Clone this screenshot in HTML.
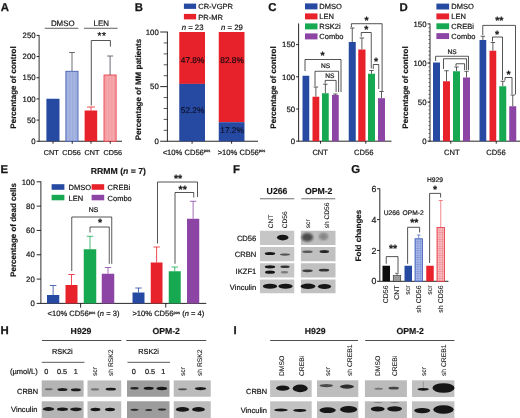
<!DOCTYPE html>
<html><head><meta charset="utf-8"><title>Figure</title>
<style>
html,body{margin:0;padding:0;background:#fff;}
body{width:520px;height:418px;overflow:hidden;}
svg{display:block;font-family:"Liberation Sans",Arial,sans-serif;text-rendering:geometricPrecision;}
</style></head><body>
<svg width="520" height="418" viewBox="0 0 520 418">
<defs>
<pattern id="vsb" width="1.5" height="4" patternUnits="userSpaceOnUse"><rect width="1.5" height="4" fill="#abb9e3"/><rect width="0.6" height="4" fill="#94a5d9"/></pattern>
<pattern id="vsr" width="1.5" height="4" patternUnits="userSpaceOnUse"><rect width="1.5" height="4" fill="#f7adb1"/><rect width="0.6" height="4" fill="#f19399"/></pattern>
<pattern id="chb" x="415" y="238.75" width="2.5" height="2.3" patternUnits="userSpaceOnUse"><rect width="2.5" height="2.3" fill="#acbaea"/><rect width="0.8" height="2.3" fill="#8399d8"/><rect width="2.5" height="0.7" fill="#8399d8"/></pattern>
<pattern id="chr" x="437" y="227.5" width="2.5" height="2.3" patternUnits="userSpaceOnUse"><rect width="2.5" height="2.3" fill="#f9c3c6"/><rect width="0.8" height="2.3" fill="#f1929a"/><rect width="2.5" height="0.7" fill="#f1929a"/></pattern>
<filter id="soft" x="0" y="0" width="520" height="418" filterUnits="userSpaceOnUse"><feGaussianBlur stdDeviation="0.35"/></filter>
<filter id="b0" x="-30%" y="-80%" width="160%" height="260%"><feGaussianBlur stdDeviation="0.48"/></filter>
<filter id="b1" x="-30%" y="-80%" width="160%" height="260%"><feGaussianBlur stdDeviation="0.62"/></filter>
<filter id="b2" x="-40%" y="-80%" width="180%" height="260%"><feGaussianBlur stdDeviation="1.3"/></filter>
</defs>
<rect width="520" height="418" fill="#fff"/>
<g filter="url(#soft)">
<text x="0.80" y="11.00" font-size="11.4" font-weight="bold" fill="#161616" stroke="#161616" stroke-width="0.25">A</text>
<text x="62.75" y="25.50" font-size="7.9" text-anchor="middle" fill="#161616" stroke="#161616" stroke-width="0.2">DMSO</text>
<text x="101.30" y="25.50" font-size="7.9" text-anchor="middle" fill="#161616" stroke="#161616" stroke-width="0.2">LEN</text>
<line x1="44.80" y1="28.30" x2="78.40" y2="28.30" stroke="#222" stroke-width="0.7"/>
<line x1="84.00" y1="28.30" x2="117.50" y2="28.30" stroke="#222" stroke-width="0.7"/>
<line x1="39.10" y1="35.05" x2="39.10" y2="141.60" stroke="#141414" stroke-width="0.9"/>
<line x1="36.60" y1="141.25" x2="39.10" y2="141.25" stroke="#141414" stroke-width="0.9"/>
<text x="35.60" y="143.96" font-size="7.8" text-anchor="end" fill="#161616" stroke="#161616" stroke-width="0.2">0</text>
<line x1="36.60" y1="120.08" x2="39.10" y2="120.08" stroke="#141414" stroke-width="0.9"/>
<text x="35.60" y="122.79" font-size="7.8" text-anchor="end" fill="#161616" stroke="#161616" stroke-width="0.2">50</text>
<line x1="36.60" y1="98.91" x2="39.10" y2="98.91" stroke="#141414" stroke-width="0.9"/>
<text x="35.60" y="101.62" font-size="7.8" text-anchor="end" fill="#161616" stroke="#161616" stroke-width="0.2">100</text>
<line x1="36.60" y1="77.74" x2="39.10" y2="77.74" stroke="#141414" stroke-width="0.9"/>
<text x="35.60" y="80.45" font-size="7.8" text-anchor="end" fill="#161616" stroke="#161616" stroke-width="0.2">150</text>
<line x1="36.60" y1="56.57" x2="39.10" y2="56.57" stroke="#141414" stroke-width="0.9"/>
<text x="35.60" y="59.28" font-size="7.8" text-anchor="end" fill="#161616" stroke="#161616" stroke-width="0.2">200</text>
<line x1="36.60" y1="35.40" x2="39.10" y2="35.40" stroke="#141414" stroke-width="0.9"/>
<text x="35.60" y="38.11" font-size="7.8" text-anchor="end" fill="#161616" stroke="#161616" stroke-width="0.2">250</text>
<line x1="39.10" y1="141.25" x2="122.00" y2="141.25" stroke="#141414" stroke-width="0.9"/>
<text transform="translate(16.40 87.50) rotate(-90)" font-size="8" text-anchor="middle" font-weight="bold" fill="#161616" stroke="#161616" stroke-width="0.15">Percentage of control</text>
<rect x="46.40" y="98.75" width="13.10" height="42.50" fill="#284aa1"/>
<rect x="65.90" y="71.30" width="12.10" height="69.95" fill="url(#vsb)" stroke="#4561b4" stroke-width="0.9"/>
<rect x="84.60" y="110.50" width="12.60" height="30.75" fill="#e8212b"/>
<rect x="104.00" y="75.00" width="12.10" height="66.25" fill="url(#vsr)" stroke="#e8434c" stroke-width="0.9"/>
<line x1="72.00" y1="52.50" x2="72.00" y2="71.00" stroke="#4a4a50" stroke-width="0.8"/>
<line x1="69.00" y1="52.50" x2="75.00" y2="52.50" stroke="#4a4a50" stroke-width="0.8"/>
<line x1="91.00" y1="107.00" x2="91.00" y2="110.50" stroke="#e8212b" stroke-width="0.8"/>
<line x1="87.00" y1="107.00" x2="95.00" y2="107.00" stroke="#e8212b" stroke-width="0.8"/>
<line x1="110.10" y1="56.00" x2="110.10" y2="75.00" stroke="#4a4a50" stroke-width="0.8"/>
<line x1="107.10" y1="56.00" x2="113.10" y2="56.00" stroke="#4a4a50" stroke-width="0.8"/>
<line x1="53.00" y1="141.25" x2="53.00" y2="143.75" stroke="#141414" stroke-width="0.9"/>
<line x1="72.25" y1="141.25" x2="72.25" y2="143.75" stroke="#141414" stroke-width="0.9"/>
<line x1="91.00" y1="141.25" x2="91.00" y2="143.75" stroke="#141414" stroke-width="0.9"/>
<line x1="110.25" y1="141.25" x2="110.25" y2="143.75" stroke="#141414" stroke-width="0.9"/>
<text x="51.25" y="154.60" font-size="7.2" text-anchor="middle" fill="#161616" stroke="#161616" stroke-width="0.2">CNT</text>
<text x="71.50" y="154.60" font-size="7.2" text-anchor="middle" fill="#161616" stroke="#161616" stroke-width="0.2">CD56</text>
<text x="91.90" y="154.60" font-size="7.2" text-anchor="middle" fill="#161616" stroke="#161616" stroke-width="0.2">CNT</text>
<text x="112.75" y="154.60" font-size="7.2" text-anchor="middle" fill="#161616" stroke="#161616" stroke-width="0.2">CD56</text>
<polyline points="91.30,105.50 91.30,40.50 110.40,40.50 110.40,46.60" fill="none" stroke="#1e1e1e" stroke-width="0.75"/>
<text x="102.00" y="38.90" font-size="10" text-anchor="middle" fill="#161616" stroke="#161616" stroke-width="0.3" letter-spacing="0.5">**</text>
<text x="134.70" y="11.00" font-size="11.4" font-weight="bold" fill="#161616" stroke="#161616" stroke-width="0.25">B</text>
<rect x="183.90" y="3.60" width="12.20" height="5.30" fill="#284aa1"/>
<rect x="183.90" y="13.90" width="12.20" height="5.50" fill="#e8212b"/>
<text x="198.20" y="9.20" font-size="7.55" fill="#161616" stroke="#161616" stroke-width="0.2">CR-VGPR</text>
<text x="198.20" y="19.50" font-size="7.55" fill="#161616" stroke="#161616" stroke-width="0.2">PR-MR</text>
<text x="192.60" y="29.80" font-size="7.8" text-anchor="middle" fill="#161616" stroke="#161616" stroke-width="0.2"><tspan font-style="italic">n</tspan> = 23</text>
<text x="231.90" y="29.80" font-size="7.8" text-anchor="middle" fill="#161616" stroke="#161616" stroke-width="0.2"><tspan font-style="italic">n</tspan> = 29</text>
<line x1="167.40" y1="31.65" x2="167.40" y2="141.60" stroke="#141414" stroke-width="0.9"/>
<line x1="160.20" y1="141.25" x2="167.40" y2="141.25" stroke="#141414" stroke-width="0.9"/>
<text x="158.80" y="143.96" font-size="7.8" text-anchor="end" fill="#161616" stroke="#161616" stroke-width="0.2">0</text>
<line x1="163.70" y1="130.32" x2="167.40" y2="130.32" stroke="#141414" stroke-width="0.7"/>
<line x1="163.70" y1="119.40" x2="167.40" y2="119.40" stroke="#141414" stroke-width="0.7"/>
<line x1="163.70" y1="108.47" x2="167.40" y2="108.47" stroke="#141414" stroke-width="0.7"/>
<line x1="163.70" y1="97.55" x2="167.40" y2="97.55" stroke="#141414" stroke-width="0.7"/>
<line x1="160.20" y1="86.62" x2="167.40" y2="86.62" stroke="#141414" stroke-width="0.9"/>
<text x="158.80" y="89.33" font-size="7.8" text-anchor="end" fill="#161616" stroke="#161616" stroke-width="0.2">50</text>
<line x1="163.70" y1="75.70" x2="167.40" y2="75.70" stroke="#141414" stroke-width="0.7"/>
<line x1="163.70" y1="64.77" x2="167.40" y2="64.77" stroke="#141414" stroke-width="0.7"/>
<line x1="163.70" y1="53.85" x2="167.40" y2="53.85" stroke="#141414" stroke-width="0.7"/>
<line x1="163.70" y1="42.92" x2="167.40" y2="42.92" stroke="#141414" stroke-width="0.7"/>
<line x1="160.20" y1="32.00" x2="167.40" y2="32.00" stroke="#141414" stroke-width="0.9"/>
<text x="158.80" y="34.71" font-size="7.8" text-anchor="end" fill="#161616" stroke="#161616" stroke-width="0.2">100</text>
<line x1="167.40" y1="141.25" x2="258.00" y2="141.25" stroke="#141414" stroke-width="0.9"/>
<rect x="179.25" y="32.00" width="25.75" height="51.90" fill="#e8212b"/>
<rect x="179.25" y="83.90" width="25.75" height="57.35" fill="#284aa1"/>
<rect x="218.75" y="32.00" width="25.75" height="90.20" fill="#e8212b"/>
<rect x="218.75" y="122.20" width="25.75" height="19.05" fill="#284aa1"/>
<line x1="192.10" y1="141.25" x2="192.10" y2="143.75" stroke="#141414" stroke-width="0.9"/>
<line x1="231.60" y1="141.25" x2="231.60" y2="143.75" stroke="#141414" stroke-width="0.9"/>
<text x="192.60" y="63.10" font-size="8.3" text-anchor="middle" fill="#1a0c10" stroke="#1a0c10" stroke-width="0.2">47.8%</text>
<text x="232.10" y="63.10" font-size="8.3" text-anchor="middle" fill="#1a0c10" stroke="#1a0c10" stroke-width="0.2">82.8%</text>
<text x="192.60" y="113.10" font-size="8.3" text-anchor="middle" fill="#0c1230" stroke="#0c1230" stroke-width="0.2">52.2%</text>
<text x="232.10" y="133.10" font-size="8.3" text-anchor="middle" fill="#0c1230" stroke="#0c1230" stroke-width="0.2">17.2%</text>
<text x="162.70" y="154.60" font-size="7.6" fill="#161616" stroke="#161616" stroke-width="0.2">&lt;10% CD56<tspan font-size="4" dy="-2.4">pos</tspan></text>
<text x="217.70" y="154.60" font-size="7.6" fill="#161616" stroke="#161616" stroke-width="0.2">&gt;10% CD56<tspan font-size="4" dy="-2.4">pos</tspan></text>
<text transform="translate(141.00 89.50) rotate(-90)" font-size="8" text-anchor="middle" font-weight="bold" fill="#161616" stroke="#161616" stroke-width="0.15">Percentage of MM patients</text>
<text x="268.20" y="11.00" font-size="11.4" font-weight="bold" fill="#161616" stroke="#161616" stroke-width="0.25">C</text>
<rect x="305.00" y="3.40" width="12.50" height="6.00" fill="#284aa1"/>
<text x="319.30" y="9.20" font-size="7.5" fill="#161616" stroke="#161616" stroke-width="0.2">DMSO</text>
<rect x="305.00" y="13.40" width="12.50" height="6.00" fill="#e8212b"/>
<text x="319.30" y="19.20" font-size="7.5" fill="#161616" stroke="#161616" stroke-width="0.2">LEN</text>
<rect x="305.00" y="23.40" width="12.50" height="6.00" fill="#19a951"/>
<text x="319.30" y="29.20" font-size="7.5" fill="#161616" stroke="#161616" stroke-width="0.2">RSK2i</text>
<rect x="305.00" y="33.40" width="12.50" height="6.00" fill="#8c44a4"/>
<text x="319.30" y="39.20" font-size="7.5" fill="#161616" stroke="#161616" stroke-width="0.2">Combo</text>
<line x1="298.60" y1="23.40" x2="298.60" y2="141.55" stroke="#141414" stroke-width="0.9"/>
<line x1="296.10" y1="141.20" x2="298.60" y2="141.20" stroke="#141414" stroke-width="0.9"/>
<text x="295.10" y="143.91" font-size="7.8" text-anchor="end" fill="#161616" stroke="#161616" stroke-width="0.2">0</text>
<line x1="296.10" y1="109.00" x2="298.60" y2="109.00" stroke="#141414" stroke-width="0.9"/>
<text x="295.10" y="111.71" font-size="7.8" text-anchor="end" fill="#161616" stroke="#161616" stroke-width="0.2">50</text>
<line x1="296.10" y1="76.80" x2="298.60" y2="76.80" stroke="#141414" stroke-width="0.9"/>
<text x="295.10" y="79.51" font-size="7.8" text-anchor="end" fill="#161616" stroke="#161616" stroke-width="0.2">100</text>
<line x1="296.10" y1="44.60" x2="298.60" y2="44.60" stroke="#141414" stroke-width="0.9"/>
<text x="295.10" y="47.31" font-size="7.8" text-anchor="end" fill="#161616" stroke="#161616" stroke-width="0.2">150</text>
<line x1="298.60" y1="141.20" x2="391.50" y2="141.20" stroke="#141414" stroke-width="0.9"/>
<text transform="translate(276.20 87.50) rotate(-90)" font-size="8" text-anchor="middle" font-weight="bold" fill="#161616" stroke="#161616" stroke-width="0.15">Percentage of control</text>
<rect x="302.50" y="75.75" width="6.75" height="65.45" fill="#284aa1"/>
<line x1="315.88" y1="87.00" x2="315.88" y2="96.75" stroke="#333" stroke-width="0.8"/>
<line x1="313.68" y1="87.00" x2="318.07" y2="87.00" stroke="#333" stroke-width="0.8"/>
<rect x="312.50" y="96.75" width="6.75" height="44.45" fill="#e8212b"/>
<line x1="325.38" y1="84.25" x2="325.38" y2="93.25" stroke="#333" stroke-width="0.8"/>
<line x1="323.18" y1="84.25" x2="327.57" y2="84.25" stroke="#333" stroke-width="0.8"/>
<rect x="322.00" y="93.25" width="6.75" height="47.95" fill="#19a951"/>
<line x1="335.38" y1="94.00" x2="335.38" y2="95.00" stroke="#333" stroke-width="0.8"/>
<line x1="333.18" y1="94.00" x2="337.57" y2="94.00" stroke="#333" stroke-width="0.8"/>
<rect x="332.00" y="95.00" width="6.75" height="46.20" fill="#8c44a4"/>
<line x1="352.25" y1="28.00" x2="352.25" y2="42.00" stroke="#333" stroke-width="0.8"/>
<line x1="350.05" y1="28.00" x2="354.45" y2="28.00" stroke="#333" stroke-width="0.8"/>
<rect x="348.75" y="42.00" width="7.00" height="99.20" fill="#284aa1"/>
<line x1="361.88" y1="38.00" x2="361.88" y2="49.50" stroke="#333" stroke-width="0.8"/>
<line x1="359.68" y1="38.00" x2="364.07" y2="38.00" stroke="#333" stroke-width="0.8"/>
<rect x="358.25" y="49.50" width="7.25" height="91.70" fill="#e8212b"/>
<line x1="371.50" y1="70.50" x2="371.50" y2="73.75" stroke="#333" stroke-width="0.8"/>
<line x1="369.30" y1="70.50" x2="373.70" y2="70.50" stroke="#333" stroke-width="0.8"/>
<rect x="368.00" y="73.75" width="7.00" height="67.45" fill="#19a951"/>
<line x1="381.50" y1="91.50" x2="381.50" y2="98.20" stroke="#333" stroke-width="0.8"/>
<line x1="379.30" y1="91.50" x2="383.70" y2="91.50" stroke="#333" stroke-width="0.8"/>
<rect x="378.00" y="98.20" width="7.00" height="43.00" fill="#8c44a4"/>
<line x1="320.50" y1="141.20" x2="320.50" y2="143.70" stroke="#141414" stroke-width="0.9"/>
<line x1="365.75" y1="141.20" x2="365.75" y2="143.70" stroke="#141414" stroke-width="0.9"/>
<text x="320.20" y="154.70" font-size="7.6" text-anchor="middle" fill="#161616" stroke="#161616" stroke-width="0.2">CNT</text>
<text x="363.70" y="154.70" font-size="7.6" text-anchor="middle" fill="#161616" stroke="#161616" stroke-width="0.2">CD56</text>
<polyline points="305.00,71.00 305.00,59.50 341.00,59.50 341.00,92.00" fill="none" stroke="#1e1e1e" stroke-width="0.75"/>
<text x="322.50" y="58.54" font-size="10.5" text-anchor="middle" font-weight="bold" fill="#161616" stroke="#161616" stroke-width="0.2">*</text>
<polyline points="315.00,86.00 315.00,71.25 338.60,71.25 338.60,92.00" fill="none" stroke="#1e1e1e" stroke-width="0.75"/>
<text x="325.50" y="67.90" font-size="6.6" text-anchor="middle" fill="#161616" stroke="#161616" stroke-width="0.2">NS</text>
<polyline points="325.20,83.50 325.20,80.40 336.10,80.40 336.10,92.00" fill="none" stroke="#1e1e1e" stroke-width="0.75"/>
<text x="329.80" y="77.60" font-size="6.6" text-anchor="middle" fill="#161616" stroke="#161616" stroke-width="0.2">NS</text>
<polyline points="351.40,27.00 351.40,23.70 382.10,23.70 382.10,91.00" fill="none" stroke="#1e1e1e" stroke-width="0.75"/>
<text x="366.50" y="23.54" font-size="10.5" text-anchor="middle" font-weight="bold" fill="#161616" stroke="#161616" stroke-width="0.2">*</text>
<polyline points="361.25,36.50 361.25,32.50 371.25,32.50 371.25,68.50" fill="none" stroke="#1e1e1e" stroke-width="0.75"/>
<text x="366.30" y="32.54" font-size="10.5" text-anchor="middle" font-weight="bold" fill="#161616" stroke="#161616" stroke-width="0.2">*</text>
<polyline points="373.25,69.00 373.25,64.50 378.75,64.50 378.75,89.00" fill="none" stroke="#1e1e1e" stroke-width="0.75"/>
<text x="376.00" y="64.54" font-size="10.5" text-anchor="middle" font-weight="bold" fill="#161616" stroke="#161616" stroke-width="0.2">*</text>
<text x="399.40" y="11.00" font-size="11.4" font-weight="bold" fill="#161616" stroke="#161616" stroke-width="0.25">D</text>
<rect x="436.40" y="3.60" width="12.70" height="5.90" fill="#284aa1"/>
<text x="451.30" y="9.20" font-size="7.5" fill="#161616" stroke="#161616" stroke-width="0.2">DMSO</text>
<rect x="436.40" y="13.45" width="12.70" height="5.90" fill="#e8212b"/>
<text x="451.30" y="19.20" font-size="7.5" fill="#161616" stroke="#161616" stroke-width="0.2">LEN</text>
<rect x="436.40" y="23.30" width="12.70" height="5.90" fill="#19a951"/>
<text x="451.30" y="29.20" font-size="7.5" fill="#161616" stroke="#161616" stroke-width="0.2">CREBi</text>
<rect x="436.40" y="33.15" width="12.70" height="5.90" fill="#8c44a4"/>
<text x="451.30" y="39.20" font-size="7.5" fill="#161616" stroke="#161616" stroke-width="0.2">Combo</text>
<line x1="430.00" y1="23.55" x2="430.00" y2="141.55" stroke="#141414" stroke-width="0.9"/>
<line x1="427.50" y1="141.20" x2="430.00" y2="141.20" stroke="#141414" stroke-width="0.9"/>
<text x="426.50" y="143.91" font-size="7.8" text-anchor="end" fill="#161616" stroke="#161616" stroke-width="0.2">0</text>
<line x1="427.50" y1="102.10" x2="430.00" y2="102.10" stroke="#141414" stroke-width="0.9"/>
<text x="426.50" y="104.81" font-size="7.8" text-anchor="end" fill="#161616" stroke="#161616" stroke-width="0.2">50</text>
<line x1="427.50" y1="63.00" x2="430.00" y2="63.00" stroke="#141414" stroke-width="0.9"/>
<text x="426.50" y="65.71" font-size="7.8" text-anchor="end" fill="#161616" stroke="#161616" stroke-width="0.2">100</text>
<line x1="427.50" y1="23.90" x2="430.00" y2="23.90" stroke="#141414" stroke-width="0.9"/>
<text x="426.50" y="26.61" font-size="7.8" text-anchor="end" fill="#161616" stroke="#161616" stroke-width="0.2">150</text>
<line x1="428.40" y1="141.20" x2="430.00" y2="141.20" stroke="#141414" stroke-width="0.5"/>
<line x1="428.40" y1="137.29" x2="430.00" y2="137.29" stroke="#141414" stroke-width="0.5"/>
<line x1="428.40" y1="133.38" x2="430.00" y2="133.38" stroke="#141414" stroke-width="0.5"/>
<line x1="428.40" y1="129.47" x2="430.00" y2="129.47" stroke="#141414" stroke-width="0.5"/>
<line x1="428.40" y1="125.56" x2="430.00" y2="125.56" stroke="#141414" stroke-width="0.5"/>
<line x1="428.40" y1="121.65" x2="430.00" y2="121.65" stroke="#141414" stroke-width="0.5"/>
<line x1="428.40" y1="117.74" x2="430.00" y2="117.74" stroke="#141414" stroke-width="0.5"/>
<line x1="428.40" y1="113.83" x2="430.00" y2="113.83" stroke="#141414" stroke-width="0.5"/>
<line x1="428.40" y1="109.92" x2="430.00" y2="109.92" stroke="#141414" stroke-width="0.5"/>
<line x1="428.40" y1="106.01" x2="430.00" y2="106.01" stroke="#141414" stroke-width="0.5"/>
<line x1="428.40" y1="102.10" x2="430.00" y2="102.10" stroke="#141414" stroke-width="0.5"/>
<line x1="428.40" y1="98.19" x2="430.00" y2="98.19" stroke="#141414" stroke-width="0.5"/>
<line x1="428.40" y1="94.28" x2="430.00" y2="94.28" stroke="#141414" stroke-width="0.5"/>
<line x1="428.40" y1="90.37" x2="430.00" y2="90.37" stroke="#141414" stroke-width="0.5"/>
<line x1="428.40" y1="86.46" x2="430.00" y2="86.46" stroke="#141414" stroke-width="0.5"/>
<line x1="428.40" y1="82.55" x2="430.00" y2="82.55" stroke="#141414" stroke-width="0.5"/>
<line x1="428.40" y1="78.64" x2="430.00" y2="78.64" stroke="#141414" stroke-width="0.5"/>
<line x1="428.40" y1="74.73" x2="430.00" y2="74.73" stroke="#141414" stroke-width="0.5"/>
<line x1="428.40" y1="70.82" x2="430.00" y2="70.82" stroke="#141414" stroke-width="0.5"/>
<line x1="428.40" y1="66.91" x2="430.00" y2="66.91" stroke="#141414" stroke-width="0.5"/>
<line x1="428.40" y1="63.00" x2="430.00" y2="63.00" stroke="#141414" stroke-width="0.5"/>
<line x1="428.40" y1="59.09" x2="430.00" y2="59.09" stroke="#141414" stroke-width="0.5"/>
<line x1="428.40" y1="55.18" x2="430.00" y2="55.18" stroke="#141414" stroke-width="0.5"/>
<line x1="428.40" y1="51.27" x2="430.00" y2="51.27" stroke="#141414" stroke-width="0.5"/>
<line x1="428.40" y1="47.36" x2="430.00" y2="47.36" stroke="#141414" stroke-width="0.5"/>
<line x1="428.40" y1="43.45" x2="430.00" y2="43.45" stroke="#141414" stroke-width="0.5"/>
<line x1="428.40" y1="39.54" x2="430.00" y2="39.54" stroke="#141414" stroke-width="0.5"/>
<line x1="428.40" y1="35.63" x2="430.00" y2="35.63" stroke="#141414" stroke-width="0.5"/>
<line x1="428.40" y1="31.72" x2="430.00" y2="31.72" stroke="#141414" stroke-width="0.5"/>
<line x1="428.40" y1="27.81" x2="430.00" y2="27.81" stroke="#141414" stroke-width="0.5"/>
<line x1="430.00" y1="141.20" x2="520.00" y2="141.20" stroke="#141414" stroke-width="0.9"/>
<text transform="translate(407.90 87.50) rotate(-90)" font-size="8" text-anchor="middle" font-weight="bold" fill="#161616" stroke="#161616" stroke-width="0.15">Percentage of control</text>
<rect x="433.00" y="62.50" width="7.00" height="78.70" fill="#284aa1"/>
<line x1="446.50" y1="70.75" x2="446.50" y2="81.25" stroke="#333" stroke-width="0.8"/>
<line x1="444.30" y1="70.75" x2="448.70" y2="70.75" stroke="#333" stroke-width="0.8"/>
<rect x="443.00" y="81.25" width="7.00" height="59.95" fill="#e8212b"/>
<line x1="456.50" y1="67.00" x2="456.50" y2="71.25" stroke="#333" stroke-width="0.8"/>
<line x1="454.30" y1="67.00" x2="458.70" y2="67.00" stroke="#333" stroke-width="0.8"/>
<rect x="453.00" y="71.25" width="7.00" height="69.95" fill="#19a951"/>
<line x1="466.50" y1="71.25" x2="466.50" y2="77.50" stroke="#333" stroke-width="0.8"/>
<line x1="464.30" y1="71.25" x2="468.70" y2="71.25" stroke="#333" stroke-width="0.8"/>
<rect x="463.00" y="77.50" width="7.00" height="63.70" fill="#8c44a4"/>
<line x1="482.88" y1="36.25" x2="482.88" y2="40.00" stroke="#333" stroke-width="0.8"/>
<line x1="480.68" y1="36.25" x2="485.07" y2="36.25" stroke="#333" stroke-width="0.8"/>
<rect x="479.50" y="40.00" width="6.75" height="101.20" fill="#284aa1"/>
<line x1="492.88" y1="42.50" x2="492.88" y2="50.75" stroke="#333" stroke-width="0.8"/>
<line x1="490.68" y1="42.50" x2="495.07" y2="42.50" stroke="#333" stroke-width="0.8"/>
<rect x="489.50" y="50.75" width="6.75" height="90.45" fill="#e8212b"/>
<line x1="502.75" y1="81.25" x2="502.75" y2="86.25" stroke="#333" stroke-width="0.8"/>
<line x1="500.55" y1="81.25" x2="504.95" y2="81.25" stroke="#333" stroke-width="0.8"/>
<rect x="499.25" y="86.25" width="7.00" height="54.95" fill="#19a951"/>
<line x1="512.75" y1="95.00" x2="512.75" y2="106.25" stroke="#333" stroke-width="0.8"/>
<line x1="510.55" y1="95.00" x2="514.95" y2="95.00" stroke="#333" stroke-width="0.8"/>
<rect x="509.25" y="106.25" width="7.00" height="34.95" fill="#8c44a4"/>
<line x1="450.75" y1="141.20" x2="450.75" y2="143.70" stroke="#141414" stroke-width="0.9"/>
<line x1="496.25" y1="141.20" x2="496.25" y2="143.70" stroke="#141414" stroke-width="0.9"/>
<text x="451.80" y="154.70" font-size="7.6" text-anchor="middle" fill="#161616" stroke="#161616" stroke-width="0.2">CNT</text>
<text x="495.90" y="154.70" font-size="7.6" text-anchor="middle" fill="#161616" stroke="#161616" stroke-width="0.2">CD56</text>
<polyline points="435.60,61.00 435.60,56.25 468.50,56.25 468.50,70.00" fill="none" stroke="#1e1e1e" stroke-width="0.75"/>
<text x="452.00" y="53.80" font-size="6.6" text-anchor="middle" fill="#161616" stroke="#161616" stroke-width="0.2">NS</text>
<polyline points="443.50,69.00 443.50,58.75 466.60,58.75 466.60,70.00" fill="none" stroke="#1e1e1e" stroke-width="0.75"/>
<polyline points="456.00,66.00 456.00,63.75 464.60,63.75 464.60,70.00" fill="none" stroke="#1e1e1e" stroke-width="0.75"/>
<polyline points="482.75,35.00 482.75,25.40 515.50,25.40 515.50,94.50" fill="none" stroke="#1e1e1e" stroke-width="0.75"/>
<text x="499.30" y="24.24" font-size="10.5" text-anchor="middle" font-weight="bold" fill="#161616" stroke="#161616" stroke-width="0.2">**</text>
<polyline points="492.50,41.50 492.50,37.00 502.50,37.00 502.50,80.00" fill="none" stroke="#1e1e1e" stroke-width="0.75"/>
<text x="497.00" y="37.54" font-size="10.5" text-anchor="middle" font-weight="bold" fill="#161616" stroke="#161616" stroke-width="0.2">*</text>
<polyline points="505.00,80.50 505.00,77.50 512.00,77.50 512.00,94.00" fill="none" stroke="#1e1e1e" stroke-width="0.75"/>
<text x="508.50" y="78.04" font-size="10.5" text-anchor="middle" font-weight="bold" fill="#161616" stroke="#161616" stroke-width="0.2">*</text>
<text x="0.40" y="172.80" font-size="11.4" font-weight="bold" fill="#161616" stroke="#161616" stroke-width="0.25">E</text>
<text x="118.40" y="174.00" font-size="8.7" text-anchor="middle" font-weight="bold" fill="#161616" stroke="#161616" stroke-width="0.15">RRMM (<tspan font-style="italic">n</tspan> = 7)</text>
<line x1="40.90" y1="181.45" x2="40.90" y2="303.75" stroke="#141414" stroke-width="0.9"/>
<line x1="36.70" y1="303.40" x2="40.90" y2="303.40" stroke="#141414" stroke-width="0.9"/>
<text x="34.80" y="306.11" font-size="7.8" text-anchor="end" fill="#161616" stroke="#161616" stroke-width="0.2">0</text>
<line x1="36.70" y1="279.08" x2="40.90" y2="279.08" stroke="#141414" stroke-width="0.9"/>
<text x="34.80" y="281.79" font-size="7.8" text-anchor="end" fill="#161616" stroke="#161616" stroke-width="0.2">20</text>
<line x1="36.70" y1="254.76" x2="40.90" y2="254.76" stroke="#141414" stroke-width="0.9"/>
<text x="34.80" y="257.47" font-size="7.8" text-anchor="end" fill="#161616" stroke="#161616" stroke-width="0.2">40</text>
<line x1="36.70" y1="230.44" x2="40.90" y2="230.44" stroke="#141414" stroke-width="0.9"/>
<text x="34.80" y="233.15" font-size="7.8" text-anchor="end" fill="#161616" stroke="#161616" stroke-width="0.2">60</text>
<line x1="36.70" y1="206.12" x2="40.90" y2="206.12" stroke="#141414" stroke-width="0.9"/>
<text x="34.80" y="208.83" font-size="7.8" text-anchor="end" fill="#161616" stroke="#161616" stroke-width="0.2">80</text>
<line x1="36.70" y1="181.80" x2="40.90" y2="181.80" stroke="#141414" stroke-width="0.9"/>
<text x="34.80" y="184.51" font-size="7.8" text-anchor="end" fill="#161616" stroke="#161616" stroke-width="0.2">100</text>
<line x1="40.90" y1="303.40" x2="206.25" y2="303.40" stroke="#141414" stroke-width="0.9"/>
<text transform="translate(16.30 230.00) rotate(-90)" font-size="8" text-anchor="middle" font-weight="bold" fill="#161616" stroke="#161616" stroke-width="0.15">Percentage of dead cells</text>
<rect x="51.60" y="184.20" width="12.80" height="5.60" fill="#284aa1"/>
<rect x="51.60" y="194.80" width="12.80" height="5.50" fill="#19a951"/>
<rect x="91.60" y="184.20" width="12.60" height="5.60" fill="#e8212b"/>
<rect x="91.60" y="194.80" width="12.60" height="5.50" fill="#8c44a4"/>
<text x="68.60" y="190.00" font-size="7.5" fill="#161616" stroke="#161616" stroke-width="0.2">DMSO</text>
<text x="68.60" y="200.70" font-size="7.5" fill="#161616" stroke="#161616" stroke-width="0.2">LEN</text>
<text x="107.60" y="190.00" font-size="7.5" fill="#161616" stroke="#161616" stroke-width="0.2">CREBi</text>
<text x="107.60" y="200.70" font-size="7.5" fill="#161616" stroke="#161616" stroke-width="0.2">Combo</text>
<line x1="53.12" y1="285.50" x2="53.12" y2="295.00" stroke="#284aa1" stroke-width="0.8"/>
<line x1="49.88" y1="285.50" x2="56.38" y2="285.50" stroke="#284aa1" stroke-width="0.8"/>
<rect x="47.00" y="295.00" width="12.25" height="8.40" fill="#284aa1"/>
<line x1="71.50" y1="274.50" x2="71.50" y2="285.00" stroke="#e8212b" stroke-width="0.8"/>
<line x1="68.25" y1="274.50" x2="74.75" y2="274.50" stroke="#e8212b" stroke-width="0.8"/>
<rect x="65.50" y="285.00" width="12.00" height="18.40" fill="#e8212b"/>
<line x1="90.00" y1="236.25" x2="90.00" y2="249.25" stroke="#19a951" stroke-width="0.8"/>
<line x1="86.75" y1="236.25" x2="93.25" y2="236.25" stroke="#19a951" stroke-width="0.8"/>
<rect x="83.75" y="249.25" width="12.50" height="54.15" fill="#19a951"/>
<line x1="108.00" y1="267.50" x2="108.00" y2="273.75" stroke="#8c44a4" stroke-width="0.8"/>
<line x1="104.75" y1="267.50" x2="111.25" y2="267.50" stroke="#8c44a4" stroke-width="0.8"/>
<rect x="101.75" y="273.75" width="12.50" height="29.65" fill="#8c44a4"/>
<line x1="138.50" y1="288.00" x2="138.50" y2="292.50" stroke="#284aa1" stroke-width="0.8"/>
<line x1="135.25" y1="288.00" x2="141.75" y2="288.00" stroke="#284aa1" stroke-width="0.8"/>
<rect x="132.50" y="292.50" width="12.00" height="10.90" fill="#284aa1"/>
<line x1="156.62" y1="247.00" x2="156.62" y2="262.50" stroke="#e8212b" stroke-width="0.8"/>
<line x1="153.38" y1="247.00" x2="159.88" y2="247.00" stroke="#e8212b" stroke-width="0.8"/>
<rect x="150.75" y="262.50" width="11.75" height="40.90" fill="#e8212b"/>
<line x1="174.75" y1="267.00" x2="174.75" y2="271.25" stroke="#19a951" stroke-width="0.8"/>
<line x1="171.50" y1="267.00" x2="178.00" y2="267.00" stroke="#19a951" stroke-width="0.8"/>
<rect x="168.75" y="271.25" width="12.00" height="32.15" fill="#19a951"/>
<line x1="193.12" y1="201.25" x2="193.12" y2="218.75" stroke="#8c44a4" stroke-width="0.8"/>
<line x1="189.88" y1="201.25" x2="196.38" y2="201.25" stroke="#8c44a4" stroke-width="0.8"/>
<rect x="187.00" y="218.75" width="12.25" height="84.65" fill="#8c44a4"/>
<line x1="80.60" y1="303.40" x2="80.60" y2="307.60" stroke="#141414" stroke-width="0.9"/>
<line x1="165.75" y1="303.40" x2="165.75" y2="307.60" stroke="#141414" stroke-width="0.9"/>
<text x="47.60" y="316.00" font-size="7.6" fill="#161616" stroke="#161616" stroke-width="0.2">&lt;10% CD56<tspan font-size="4" dy="-2.4">pos</tspan><tspan dy="2.4"> (</tspan><tspan font-style="italic">n</tspan> = 3)</text>
<text x="132.40" y="316.00" font-size="7.6" fill="#161616" stroke="#161616" stroke-width="0.2">&gt;10% CD56<tspan font-size="4" dy="-2.4">pos</tspan><tspan dy="2.4"> (</tspan><tspan font-style="italic">n</tspan> = 4)</text>
<polyline points="71.75,271.00 71.75,217.00 111.75,217.00 111.75,263.75" fill="none" stroke="#1e1e1e" stroke-width="0.75"/>
<text x="93.50" y="212.00" font-size="6.8" text-anchor="middle" fill="#161616" stroke="#161616" stroke-width="0.2">NS</text>
<polyline points="90.00,232.50 90.00,227.00 109.25,227.00 109.25,263.75" fill="none" stroke="#1e1e1e" stroke-width="0.75"/>
<text x="100.00" y="225.54" font-size="10.5" text-anchor="middle" font-weight="bold" fill="#161616" stroke="#161616" stroke-width="0.2">*</text>
<polyline points="157.50,243.50 157.50,182.00 197.50,182.00 197.50,197.00" fill="none" stroke="#1e1e1e" stroke-width="0.75"/>
<text x="178.00" y="181.84" font-size="10.5" text-anchor="middle" font-weight="bold" fill="#161616" stroke="#161616" stroke-width="0.2">**</text>
<polyline points="175.00,263.75 175.00,192.50 193.75,192.50 193.75,197.50" fill="none" stroke="#1e1e1e" stroke-width="0.75"/>
<text x="182.70" y="193.04" font-size="10.5" text-anchor="middle" font-weight="bold" fill="#161616" stroke="#161616" stroke-width="0.2">**</text>
<text x="232.90" y="172.80" font-size="11.4" font-weight="bold" fill="#161616" stroke="#161616" stroke-width="0.25">F</text>
<text x="277.00" y="194.00" font-size="8.7" text-anchor="middle" font-weight="bold" fill="#161616" stroke="#161616" stroke-width="0.15">U266</text>
<text x="318.70" y="194.00" font-size="8.7" text-anchor="middle" font-weight="bold" fill="#161616" stroke="#161616" stroke-width="0.15">OPM-2</text>
<line x1="260.00" y1="198.75" x2="294.25" y2="198.75" stroke="#333" stroke-width="0.7"/>
<line x1="301.25" y1="198.75" x2="335.25" y2="198.75" stroke="#333" stroke-width="0.7"/>
<text transform="translate(273.30 228.20) rotate(-90)" font-size="6.6" fill="#161616" stroke="#161616" stroke-width="0.08">CNT</text>
<text transform="translate(287.00 228.20) rotate(-90)" font-size="6.6" fill="#161616" stroke="#161616" stroke-width="0.08">CD56</text>
<text transform="translate(310.20 228.20) rotate(-90)" font-size="6.6" fill="#161616" stroke="#161616" stroke-width="0.08">scr</text>
<text transform="translate(328.60 228.20) rotate(-90)" font-size="6.6" fill="#161616" stroke="#161616" stroke-width="0.08">sh CD56</text>
<rect x="260.00" y="230.75" width="34.25" height="14.25" fill="#c6c6c6"/>
<rect x="300.90" y="230.75" width="34.60" height="14.25" fill="#c0c0c0"/>
<rect x="260.00" y="247.00" width="34.25" height="14.25" fill="#c6c6c6"/>
<rect x="300.90" y="247.00" width="34.60" height="14.25" fill="#c0c0c0"/>
<rect x="260.00" y="263.25" width="34.25" height="14.25" fill="#c6c6c6"/>
<rect x="300.90" y="263.25" width="34.60" height="14.25" fill="#c0c0c0"/>
<rect x="260.00" y="279.50" width="34.25" height="13.75" fill="#c6c6c6"/>
<rect x="300.90" y="279.50" width="34.60" height="13.75" fill="#c0c0c0"/>
<text x="256.30" y="241.40" font-size="7.6" text-anchor="end" fill="#161616" stroke="#161616" stroke-width="0.2">CD56</text>
<text x="256.30" y="257.20" font-size="7.6" text-anchor="end" fill="#161616" stroke="#161616" stroke-width="0.2">CRBN</text>
<text x="256.30" y="273.90" font-size="7.6" text-anchor="end" fill="#161616" stroke="#161616" stroke-width="0.2">IKZF1</text>
<text x="256.30" y="289.60" font-size="7.6" text-anchor="end" fill="#161616" stroke="#161616" stroke-width="0.2">Vinculin</text>
<ellipse cx="282.70" cy="237.60" rx="5.78" ry="2.81" fill="#121212" fill-opacity="0.97" filter="url(#b1)"/>
<ellipse cx="307.30" cy="237.20" rx="5.78" ry="4.32" fill="#121212" fill-opacity="0.67" filter="url(#b2)"/>
<ellipse cx="323.50" cy="236.60" rx="4.40" ry="3.51" fill="#121212" fill-opacity="0.35" filter="url(#b2)"/>
<ellipse cx="270.00" cy="253.60" rx="5.25" ry="1.51" fill="#121212" fill-opacity="0.96" filter="url(#b0)"/>
<ellipse cx="285.00" cy="254.60" rx="4.99" ry="1.08" fill="#121212" fill-opacity="0.64" filter="url(#b0)"/>
<ellipse cx="307.50" cy="251.80" rx="5.25" ry="1.30" fill="#121212" fill-opacity="0.59" filter="url(#b0)"/>
<ellipse cx="324.30" cy="251.50" rx="4.73" ry="1.51" fill="#121212" fill-opacity="0.86" filter="url(#b0)"/>
<ellipse cx="270.00" cy="266.80" rx="5.25" ry="1.62" fill="#121212" fill-opacity="0.96" filter="url(#b0)"/>
<ellipse cx="270.00" cy="272.20" rx="4.99" ry="1.62" fill="#121212" fill-opacity="0.96" filter="url(#b0)"/>
<ellipse cx="285.00" cy="266.80" rx="4.73" ry="1.30" fill="#121212" fill-opacity="0.80" filter="url(#b0)"/>
<ellipse cx="284.50" cy="272.30" rx="3.68" ry="1.19" fill="#121212" fill-opacity="0.43" filter="url(#b0)"/>
<ellipse cx="307.50" cy="270.80" rx="5.25" ry="1.40" fill="#121212" fill-opacity="0.75" filter="url(#b0)"/>
<ellipse cx="324.00" cy="270.20" rx="5.25" ry="1.40" fill="#121212" fill-opacity="0.80" filter="url(#b0)"/>
<ellipse cx="270.00" cy="286.30" rx="7.15" ry="2.48" fill="#121212" fill-opacity="0.97" filter="url(#b1)"/>
<ellipse cx="285.50" cy="286.30" rx="7.15" ry="2.48" fill="#121212" fill-opacity="0.97" filter="url(#b1)"/>
<ellipse cx="308.00" cy="286.30" rx="7.43" ry="2.70" fill="#121212" fill-opacity="0.97" filter="url(#b1)"/>
<ellipse cx="324.50" cy="286.50" rx="6.60" ry="2.48" fill="#121212" fill-opacity="0.97" filter="url(#b1)"/>
<text x="351.30" y="173.00" font-size="11.4" font-weight="bold" fill="#161616" stroke="#161616" stroke-width="0.25">G</text>
<line x1="379.80" y1="188.40" x2="379.80" y2="281.65" stroke="#141414" stroke-width="0.9"/>
<line x1="377.00" y1="281.30" x2="379.80" y2="281.30" stroke="#141414" stroke-width="0.9"/>
<text x="376.40" y="284.37" font-size="8.8" text-anchor="end" fill="#161616" stroke="#161616" stroke-width="0.2">0</text>
<line x1="377.00" y1="250.45" x2="379.80" y2="250.45" stroke="#141414" stroke-width="0.9"/>
<text x="376.40" y="253.52" font-size="8.8" text-anchor="end" fill="#161616" stroke="#161616" stroke-width="0.2">2</text>
<line x1="377.00" y1="219.60" x2="379.80" y2="219.60" stroke="#141414" stroke-width="0.9"/>
<text x="376.40" y="222.67" font-size="8.8" text-anchor="end" fill="#161616" stroke="#161616" stroke-width="0.2">4</text>
<line x1="377.00" y1="188.75" x2="379.80" y2="188.75" stroke="#141414" stroke-width="0.9"/>
<text x="376.40" y="191.82" font-size="8.8" text-anchor="end" fill="#161616" stroke="#161616" stroke-width="0.2">6</text>
<line x1="379.80" y1="281.30" x2="448.40" y2="281.30" stroke="#141414" stroke-width="0.9"/>
<text transform="translate(361.20 235.60) rotate(-90)" font-size="8" text-anchor="middle" font-weight="bold" fill="#161616" stroke="#161616" stroke-width="0.15">Fold changes</text>
<text x="435.00" y="182.10" font-size="6.7" text-anchor="middle" fill="#161616" stroke="#161616" stroke-width="0.2">H929</text>
<text x="391.70" y="214.90" font-size="6.7" text-anchor="middle" fill="#161616" stroke="#161616" stroke-width="0.2">U266</text>
<text x="413.20" y="214.90" font-size="6.7" text-anchor="middle" fill="#161616" stroke="#161616" stroke-width="0.2">OPM-2</text>
<rect x="382.50" y="265.75" width="7.50" height="15.55" fill="#0d0d0d"/>
<line x1="397.00" y1="273.25" x2="397.00" y2="275.50" stroke="#333" stroke-width="0.7"/>
<line x1="395.20" y1="273.25" x2="398.80" y2="273.25" stroke="#333" stroke-width="0.7"/>
<rect x="393.25" y="275.50" width="7.50" height="5.80" fill="#9a9a9a" stroke="#333" stroke-width="0.6"/>
<rect x="404.50" y="265.75" width="7.50" height="15.55" fill="#284aa1"/>
<line x1="418.75" y1="235.00" x2="418.75" y2="238.75" stroke="#4460b0" stroke-width="0.7"/>
<line x1="416.95" y1="235.00" x2="420.55" y2="235.00" stroke="#4460b0" stroke-width="0.7"/>
<rect x="415.00" y="238.75" width="7.50" height="42.55" fill="url(#chb)" stroke="#3f5db6" stroke-width="0.8"/>
<rect x="426.25" y="265.75" width="7.50" height="15.55" fill="#e8212b"/>
<line x1="440.75" y1="200.50" x2="440.75" y2="227.50" stroke="#e8555c" stroke-width="0.7"/>
<line x1="438.65" y1="200.50" x2="442.85" y2="200.50" stroke="#e8555c" stroke-width="0.7"/>
<rect x="437.00" y="227.50" width="7.50" height="53.80" fill="url(#chr)" stroke="#e8343e" stroke-width="0.8"/>
<polyline points="386.25,263.75 386.25,256.60 398.00,256.60 398.00,272.50" fill="none" stroke="#1e1e1e" stroke-width="0.75"/>
<text x="393.00" y="252.24" font-size="10.5" text-anchor="middle" font-weight="bold" fill="#161616" stroke="#161616" stroke-width="0.2">**</text>
<polyline points="407.60,263.75 407.60,227.30 419.60,227.30 419.60,232.50" fill="none" stroke="#1e1e1e" stroke-width="0.75"/>
<text x="414.30" y="226.34" font-size="10.5" text-anchor="middle" font-weight="bold" fill="#161616" stroke="#161616" stroke-width="0.2">**</text>
<polyline points="429.60,263.00 429.60,193.40 440.60,193.40 440.60,197.50" fill="none" stroke="#1e1e1e" stroke-width="0.75"/>
<text x="435.00" y="192.54" font-size="10.5" text-anchor="middle" font-weight="bold" fill="#161616" stroke="#161616" stroke-width="0.2">*</text>
<text transform="translate(388.00 285.40) rotate(-90)" font-size="7.0" text-anchor="end" fill="#161616" stroke="#161616" stroke-width="0.08">CD56</text>
<text transform="translate(399.40 285.40) rotate(-90)" font-size="7.0" text-anchor="end" fill="#161616" stroke="#161616" stroke-width="0.08">CNT</text>
<text transform="translate(409.80 285.40) rotate(-90)" font-size="7.0" text-anchor="end" fill="#161616" stroke="#161616" stroke-width="0.08">scr</text>
<text transform="translate(421.20 285.40) rotate(-90)" font-size="7.0" text-anchor="end" fill="#161616" stroke="#161616" stroke-width="0.08">sh CD56</text>
<text transform="translate(432.40 285.40) rotate(-90)" font-size="7.0" text-anchor="end" fill="#161616" stroke="#161616" stroke-width="0.08">scr</text>
<text transform="translate(443.20 285.40) rotate(-90)" font-size="7.0" text-anchor="end" fill="#161616" stroke="#161616" stroke-width="0.08">sh CD56</text>
<text x="0.40" y="333.60" font-size="11.4" font-weight="bold" fill="#161616" stroke="#161616" stroke-width="0.25">H</text>
<text x="81.00" y="334.40" font-size="8.7" text-anchor="middle" font-weight="bold" fill="#161616" stroke="#161616" stroke-width="0.15">H929</text>
<text x="166.20" y="334.40" font-size="8.7" text-anchor="middle" font-weight="bold" fill="#161616" stroke="#161616" stroke-width="0.15">OPM-2</text>
<line x1="42.00" y1="340.50" x2="121.40" y2="340.50" stroke="#222" stroke-width="0.8"/>
<line x1="126.25" y1="340.50" x2="206.25" y2="340.50" stroke="#222" stroke-width="0.8"/>
<text x="62.40" y="354.40" font-size="7.3" text-anchor="middle" fill="#161616" stroke="#161616" stroke-width="0.2">RSK2i</text>
<text x="148.60" y="354.40" font-size="7.3" text-anchor="middle" fill="#161616" stroke="#161616" stroke-width="0.2">RSK2i</text>
<line x1="41.80" y1="362.30" x2="84.40" y2="362.30" stroke="#222" stroke-width="0.75"/>
<line x1="127.50" y1="362.30" x2="170.00" y2="362.30" stroke="#222" stroke-width="0.75"/>
<text x="10.00" y="374.20" font-size="7.5" fill="#161616" stroke="#161616" stroke-width="0.2">(µmol/L)</text>
<text x="46.25" y="374.20" font-size="7.3" text-anchor="middle" fill="#161616" stroke="#161616" stroke-width="0.2">0</text>
<text x="62.00" y="374.20" font-size="7.3" text-anchor="middle" fill="#161616" stroke="#161616" stroke-width="0.2">0.5</text>
<text x="75.75" y="374.20" font-size="7.3" text-anchor="middle" fill="#161616" stroke="#161616" stroke-width="0.2">1</text>
<text x="133.75" y="374.20" font-size="7.3" text-anchor="middle" fill="#161616" stroke="#161616" stroke-width="0.2">0</text>
<text x="150.00" y="374.20" font-size="7.3" text-anchor="middle" fill="#161616" stroke="#161616" stroke-width="0.2">0.5</text>
<text x="163.25" y="374.20" font-size="7.3" text-anchor="middle" fill="#161616" stroke="#161616" stroke-width="0.2">1</text>
<text transform="translate(97.30 376.10) rotate(-90)" font-size="6.75" fill="#161616" stroke="#161616" stroke-width="0.08">scr</text>
<text transform="translate(112.60 376.10) rotate(-90)" font-size="6.75" fill="#161616" stroke="#161616" stroke-width="0.08">sh RSK2</text>
<text transform="translate(184.80 376.10) rotate(-90)" font-size="6.75" fill="#161616" stroke="#161616" stroke-width="0.08">scr</text>
<text transform="translate(202.30 376.10) rotate(-90)" font-size="6.75" fill="#161616" stroke="#161616" stroke-width="0.08">sh RSK2</text>
<text x="38.00" y="394.30" font-size="7.4" text-anchor="end" fill="#161616" stroke="#161616" stroke-width="0.2">CRBN</text>
<text x="37.40" y="412.40" font-size="7.55" text-anchor="end" fill="#161616" stroke="#161616" stroke-width="0.2">Vinculin</text>
<rect x="41.70" y="380.40" width="41.90" height="16.35" fill="#b4b4b4"/>
<rect x="87.50" y="380.40" width="33.75" height="16.35" fill="#bebebe"/>
<rect x="127.00" y="380.40" width="42.50" height="16.35" fill="#9c9c9c"/>
<rect x="173.75" y="380.40" width="37.00" height="16.35" fill="#bcbcbc"/>
<rect x="41.70" y="401.25" width="41.90" height="17.25" fill="#b4b4b4"/>
<rect x="87.50" y="401.25" width="33.75" height="17.25" fill="#bebebe"/>
<rect x="127.00" y="401.25" width="42.50" height="17.25" fill="#9c9c9c"/>
<rect x="173.75" y="401.25" width="37.00" height="17.25" fill="#bcbcbc"/>
<ellipse cx="48.75" cy="389.20" rx="3.94" ry="0.97" fill="#121212" fill-opacity="0.48" filter="url(#b0)"/>
<ellipse cx="62.50" cy="389.60" rx="4.99" ry="1.51" fill="#121212" fill-opacity="0.91" filter="url(#b0)"/>
<ellipse cx="75.90" cy="389.80" rx="4.99" ry="1.51" fill="#121212" fill-opacity="0.91" filter="url(#b0)"/>
<ellipse cx="95.00" cy="389.40" rx="4.20" ry="1.08" fill="#121212" fill-opacity="0.43" filter="url(#b0)"/>
<ellipse cx="110.80" cy="389.20" rx="5.25" ry="1.40" fill="#121212" fill-opacity="0.91" filter="url(#b0)"/>
<ellipse cx="134.50" cy="388.30" rx="4.20" ry="1.19" fill="#121212" fill-opacity="0.86" filter="url(#b0)"/>
<ellipse cx="148.70" cy="388.20" rx="4.99" ry="1.51" fill="#121212" fill-opacity="0.96" filter="url(#b0)"/>
<ellipse cx="161.80" cy="388.60" rx="5.25" ry="1.73" fill="#121212" fill-opacity="0.96" filter="url(#b0)"/>
<ellipse cx="182.50" cy="389.20" rx="4.46" ry="0.97" fill="#121212" fill-opacity="0.64" filter="url(#b0)"/>
<ellipse cx="200.50" cy="388.60" rx="5.78" ry="1.62" fill="#121212" fill-opacity="0.91" filter="url(#b0)"/>
<ellipse cx="48.50" cy="409.00" rx="5.78" ry="1.94" fill="#121212" fill-opacity="0.92" filter="url(#b1)"/>
<ellipse cx="62.50" cy="409.30" rx="5.51" ry="1.73" fill="#121212" fill-opacity="0.96" filter="url(#b0)"/>
<ellipse cx="76.00" cy="409.30" rx="5.78" ry="1.84" fill="#121212" fill-opacity="0.92" filter="url(#b1)"/>
<ellipse cx="95.50" cy="409.60" rx="4.99" ry="1.73" fill="#121212" fill-opacity="0.96" filter="url(#b0)"/>
<ellipse cx="110.00" cy="409.60" rx="4.99" ry="1.73" fill="#121212" fill-opacity="0.96" filter="url(#b0)"/>
<ellipse cx="134.50" cy="409.80" rx="3.94" ry="1.08" fill="#121212" fill-opacity="0.80" filter="url(#b0)"/>
<ellipse cx="148.70" cy="410.00" rx="3.41" ry="1.08" fill="#121212" fill-opacity="0.80" filter="url(#b0)"/>
<ellipse cx="162.00" cy="409.60" rx="4.20" ry="1.08" fill="#121212" fill-opacity="0.80" filter="url(#b0)"/>
<ellipse cx="182.50" cy="409.40" rx="6.60" ry="2.38" fill="#121212" fill-opacity="0.97" filter="url(#b1)"/>
<ellipse cx="198.50" cy="409.40" rx="6.33" ry="2.38" fill="#121212" fill-opacity="0.97" filter="url(#b1)"/>
<text x="233.50" y="333.60" font-size="11.4" font-weight="bold" fill="#161616" stroke="#161616" stroke-width="0.25">I</text>
<text x="315.20" y="334.40" font-size="8.7" text-anchor="middle" font-weight="bold" fill="#161616" stroke="#161616" stroke-width="0.15">H929</text>
<text x="410.20" y="334.40" font-size="8.7" text-anchor="middle" font-weight="bold" fill="#161616" stroke="#161616" stroke-width="0.15">OPM-2</text>
<line x1="270.20" y1="340.50" x2="358.00" y2="340.50" stroke="#222" stroke-width="0.8"/>
<line x1="365.20" y1="340.50" x2="454.50" y2="340.50" stroke="#222" stroke-width="0.8"/>
<text transform="translate(283.60 376.10) rotate(-90)" font-size="6.75" fill="#161616" stroke="#161616" stroke-width="0.08">DMSO</text>
<text transform="translate(304.40 376.10) rotate(-90)" font-size="6.75" fill="#161616" stroke="#161616" stroke-width="0.08">CREBi</text>
<text transform="translate(330.30 376.10) rotate(-90)" font-size="6.75" fill="#161616" stroke="#161616" stroke-width="0.08">scr</text>
<text transform="translate(351.80 376.10) rotate(-90)" font-size="6.75" fill="#161616" stroke="#161616" stroke-width="0.08">sh CREB1</text>
<text transform="translate(379.90 376.10) rotate(-90)" font-size="6.75" fill="#161616" stroke="#161616" stroke-width="0.08">DMSO</text>
<text transform="translate(396.90 376.10) rotate(-90)" font-size="6.75" fill="#161616" stroke="#161616" stroke-width="0.08">CREBi</text>
<text transform="translate(426.10 376.10) rotate(-90)" font-size="6.75" fill="#161616" stroke="#161616" stroke-width="0.08">scr</text>
<text transform="translate(446.10 376.10) rotate(-90)" font-size="6.75" fill="#161616" stroke="#161616" stroke-width="0.08">sh CREB1</text>
<text x="267.00" y="394.30" font-size="7.4" text-anchor="end" fill="#161616" stroke="#161616" stroke-width="0.2">CRBN</text>
<text x="267.00" y="412.60" font-size="7.55" text-anchor="end" fill="#161616" stroke="#161616" stroke-width="0.2">Vinculin</text>
<rect x="270.10" y="380.30" width="41.60" height="16.70" fill="#c2c2c2"/>
<rect x="317.00" y="380.30" width="41.30" height="16.70" fill="#bdbdbd"/>
<rect x="364.90" y="380.30" width="42.00" height="16.70" fill="#bbbbbb"/>
<rect x="412.00" y="380.30" width="42.40" height="16.70" fill="#c0c0c0"/>
<rect x="270.10" y="401.30" width="41.60" height="17.20" fill="#c2c2c2"/>
<rect x="317.00" y="401.30" width="41.30" height="17.20" fill="#bdbdbd"/>
<rect x="364.90" y="401.30" width="42.00" height="17.20" fill="#bbbbbb"/>
<rect x="412.00" y="401.30" width="42.40" height="17.20" fill="#c0c0c0"/>
<ellipse cx="282.80" cy="388.20" rx="6.60" ry="2.59" fill="#121212" fill-opacity="0.97" filter="url(#b1)"/>
<ellipse cx="300.20" cy="388.40" rx="7.48" ry="3.78" fill="#121212" fill-opacity="0.99" filter="url(#b1)"/>
<ellipse cx="326.30" cy="385.60" rx="6.83" ry="1.62" fill="#121212" fill-opacity="0.66" filter="url(#b0)"/>
<ellipse cx="347.00" cy="386.60" rx="7.09" ry="2.05" fill="#121212" fill-opacity="0.82" filter="url(#b1)"/>
<ellipse cx="378.70" cy="388.80" rx="4.20" ry="0.97" fill="#121212" fill-opacity="0.43" filter="url(#b0)"/>
<ellipse cx="393.70" cy="388.20" rx="5.25" ry="1.40" fill="#121212" fill-opacity="0.70" filter="url(#b0)"/>
<ellipse cx="423.20" cy="389.30" rx="5.67" ry="1.35" fill="#121212" fill-opacity="0.96" filter="url(#b0)"/>
<ellipse cx="443.50" cy="388.00" rx="11.00" ry="4.86" fill="#121212" fill-opacity="0.99" filter="url(#b1)"/>
<rect x="422.8" y="381.5" width="1" height="7" fill="#333" fill-opacity="0.3" filter="url(#b1)"/>
<ellipse cx="280.90" cy="410.00" rx="6.83" ry="1.57" fill="#121212" fill-opacity="0.96" filter="url(#b0)"/>
<ellipse cx="299.80" cy="410.40" rx="6.56" ry="1.51" fill="#121212" fill-opacity="0.96" filter="url(#b0)"/>
<ellipse cx="327.60" cy="410.20" rx="8.25" ry="2.92" fill="#121212" fill-opacity="0.97" filter="url(#b1)"/>
<ellipse cx="348.60" cy="409.40" rx="8.53" ry="3.35" fill="#121212" fill-opacity="0.97" filter="url(#b1)"/>
<ellipse cx="377.70" cy="409.00" rx="6.88" ry="2.38" fill="#121212" fill-opacity="0.97" filter="url(#b1)"/>
<ellipse cx="394.60" cy="408.80" rx="7.43" ry="2.59" fill="#121212" fill-opacity="0.97" filter="url(#b1)"/>
<ellipse cx="378.00" cy="402.60" rx="4.73" ry="0.65" fill="#121212" fill-opacity="0.27" filter="url(#b0)"/>
<ellipse cx="394.60" cy="402.60" rx="4.73" ry="0.65" fill="#121212" fill-opacity="0.27" filter="url(#b0)"/>
<ellipse cx="422.20" cy="410.60" rx="7.98" ry="2.59" fill="#121212" fill-opacity="0.97" filter="url(#b1)"/>
<ellipse cx="443.50" cy="409.50" rx="10.18" ry="4.32" fill="#121212" fill-opacity="0.99" filter="url(#b1)"/>
</g>
</svg>
</body></html>
